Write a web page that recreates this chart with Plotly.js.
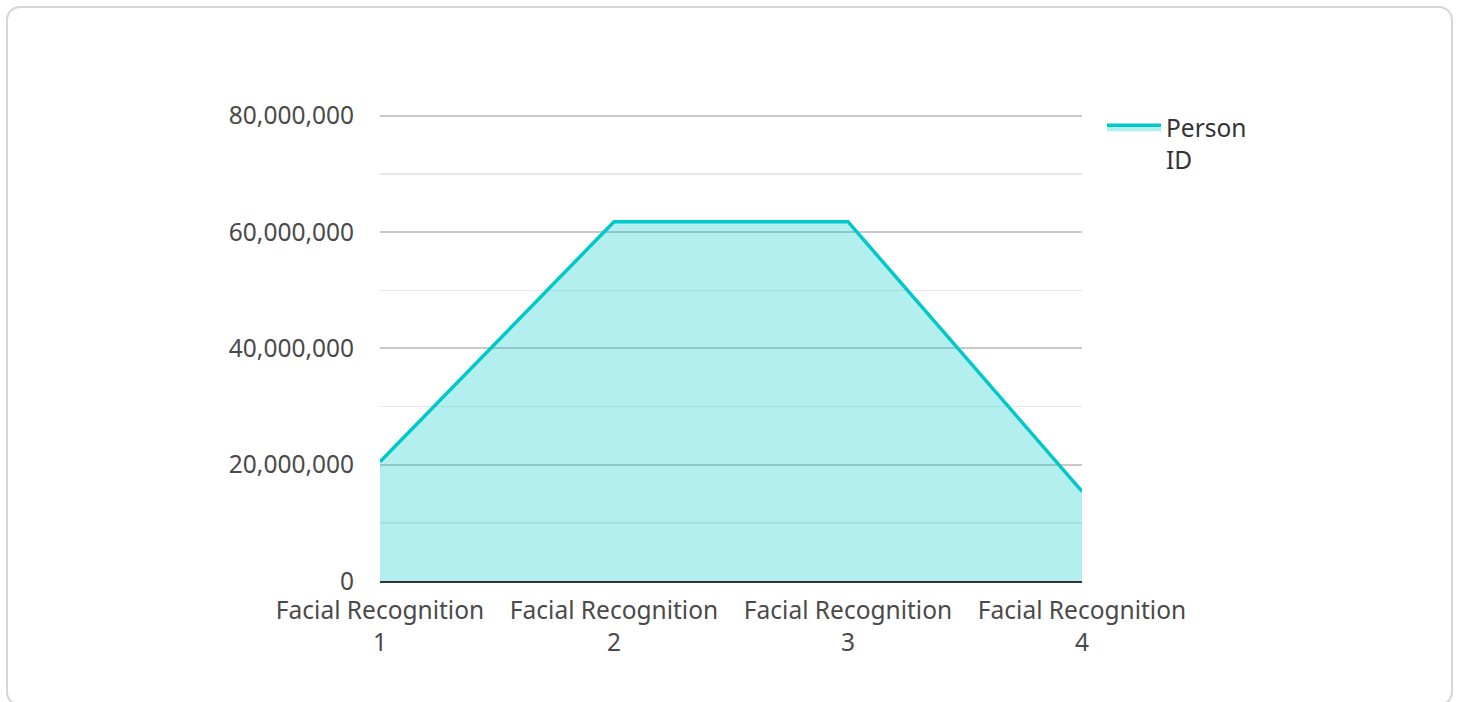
<!DOCTYPE html>
<html>
<head>
<meta charset="utf-8">
<script src="https://cdn.plot.ly/plotly-3.0.1.min.js"></script>
<style>
  html, body { margin: 0; padding: 0; background: #fff; overflow: hidden; }
  #wrap { position: relative; width: 1458px; height: 702px; overflow: hidden; }
  #chart { position: absolute; left: 0; top: 0; width: 1458px; height: 702px; }
  #frame { position: absolute; left: 6px; top: 6px; width: 1447px; height: 700px;
           border: 2px solid #d6d6d6; border-radius: 14px; pointer-events: none; box-sizing: border-box; }
</style>
</head>
<body>
<div id="wrap">
  <div id="chart"></div>
  <div id="frame"></div>
</div>
<script>
const categories = [
  "Facial Recognition<br>1",
  "Facial Recognition<br>2",
  "Facial Recognition<br>3",
  "Facial Recognition<br>4"
];
const personId = [20500000, 61800000, 61800000, 15400000];
const seriesName = "Person<br>ID";
const yTickVals = [0, 20000000, 40000000, 60000000, 80000000];
const yTickText = ["0", "20,000,000", "40,000,000", "60,000,000", "80,000,000"];

const font = "Noto Sans, Open Sans, sans-serif";

const trace = {
  x: categories,
  y: personId,
  name: seriesName,
  type: "scatter",
  mode: "lines",
  fill: "tozeroy",
  fillcolor: "rgba(0,202,200,0.3)",
  line: { color: "rgb(0,201,200)", width: 3.5 },
  showlegend: true
};

const layout = {
  width: 1458,
  height: 702,
  margin: { l: 380, r: 376, t: 113, b: 121 },
  paper_bgcolor: "rgba(0,0,0,0)",
  plot_bgcolor: "rgba(0,0,0,0)",
  font: { family: font, size: 24.5, color: "#4a4a4a" },
  showlegend: true,
  legend: {
    x: 1.0285, xanchor: "left",
    y: 1.0175, yanchor: "top",
    valign: "top",
    font: { family: font, size: 24.5, color: "#333" },
    itemwidth: 54,
    bgcolor: "rgba(0,0,0,0)"
  },
  xaxis: {
    type: "category",
    range: [0, 3],
    showgrid: false,
    zeroline: false,
    showline: true,
    linecolor: "#333",
    linewidth: 2,
    ticks: "",
    ticklabelstandoff: 7,
    tickfont: { family: font, size: 24.5, color: "#4a4a4a" },
    fixedrange: true
  },
  yaxis: {
    range: [0, 80500000],
    tickvals: yTickVals,
    ticktext: yTickText,
    showgrid: true,
    gridcolor: "#c8c8c8",
    gridwidth: 2,
    zeroline: false,
    showline: false,
    ticks: "outside",
    ticklen: 20,
    tickcolor: "rgba(0,0,0,0)",
    tickfont: { family: font, size: 24.5, color: "#4a4a4a" },
    minor: { dtick: 10000000, showgrid: true, gridcolor: "#e8e8e8", gridwidth: 1.5, ticks: "" },
    fixedrange: true
  }
};

Plotly.newPlot("chart", [trace], layout, { displayModeBar: false, staticPlot: true });
</script>
</body>
</html>
